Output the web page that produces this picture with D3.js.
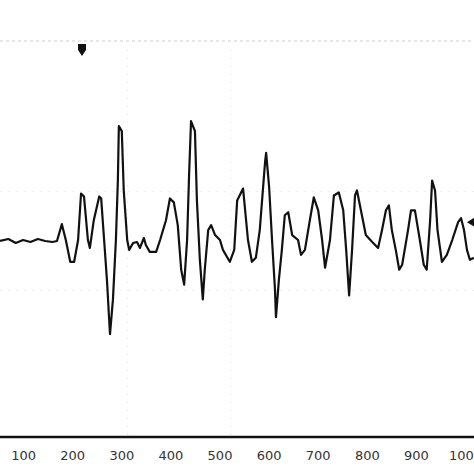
<!DOCTYPE html><html><head><meta charset="utf-8"><script src="https://cdn.jsdelivr.net/npm/d3@7"></script>
<style>body{margin:0;background:#fff}</style></head><body><svg id="c" width="474" height="474"></svg><script>
const timeVals=[53,70,85,100,115,130,145,160,169,179,187,196,204,212,218,224,232,236,244,255,259,265,271,275,277,283,289,293,295,301,305,312,316,324,332,338,346,350,358,371,379,391,399,407,415,422,428,434,438,442,450,454,460,466,470,477,483,491,501,507,521,530,536,548,558,566,574,582,593,595,601,607,613,615,621,627,633,640,648,660,666,674,684,692,701,709,715,725,733,743,752,758,764,770,776,780,788,798,811,823,831,839,845,851,859,866,872,884,890,898,908,916,922,929,933,939,944,953,963,974,986,992,998,1004,1010,1018];
const amplitude=[0.0,0.02,-0.02,0.01,-0.01,0.02,0.0,-0.01,0.0,0.17,0.01,-0.21,-0.21,0.01,0.48,0.45,0.01,-0.07,0.21,0.45,0.43,0.01,-0.41,-0.77,-0.94,-0.59,0.01,0.61,1.16,1.11,0.51,0.01,-0.09,-0.02,-0.01,-0.07,0.03,-0.04,-0.11,-0.11,0.01,0.21,0.43,0.39,0.16,-0.29,-0.44,0.01,0.66,1.21,1.11,0.41,-0.19,-0.59,-0.29,0.11,0.16,0.06,0.01,-0.09,-0.21,-0.09,0.41,0.53,0.01,-0.21,-0.17,0.11,0.81,0.89,0.55,0.01,-0.49,-0.77,-0.39,-0.09,0.26,0.29,0.06,0.01,-0.14,-0.09,0.21,0.44,0.31,0.01,-0.27,0.01,0.46,0.49,0.31,-0.09,-0.55,-0.09,0.46,0.51,0.31,0.06,-0.01,-0.07,0.11,0.31,0.36,0.11,-0.09,-0.29,-0.24,0.11,0.31,0.31,0.01,-0.24,-0.29,0.21,0.61,0.51,0.11,-0.21,-0.14,0.01,0.19,0.23,0.11,-0.09,-0.19,-0.17];
const tickVals=[100,200,300,400,500,600,700,800,900,1000];
const svg=d3.select("#c");
const x=d3.scaleLinear().domain([0,1000]).range([-26,465]);
const y=d3.scaleLinear().domain([-2,2]).range([439,43]);
svg.append("line").attr("x1",0).attr("x2",474).attr("y1",41).attr("y2",41).attr("stroke","#ccc").attr("stroke-dasharray","3,3");
[0.5,-0.5].forEach(v=>svg.append("line").attr("x1",0).attr("x2",474).attr("y1",y(v)).attr("y2",y(v)).attr("stroke","#eee").attr("stroke-dasharray","2,6"));
[313,522].forEach(v=>svg.append("line").attr("x1",x(v)).attr("x2",x(v)).attr("y1",41).attr("y2",437).attr("stroke","#eee").attr("stroke-dasharray","2,6"));
const pts=timeVals.map((t,i)=>[t,amplitude[i]]);
svg.append("path").datum(pts).attr("d",d3.line().x(d=>x(d[0])).y(d=>y(d[1]))).attr("fill","none").attr("stroke","#111").attr("stroke-width",2.2).attr("stroke-linejoin","round");
const ax=svg.append("g").attr("transform","translate(0,437)").call(d3.axisBottom(x).tickValues(tickVals).tickSize(0).tickPadding(14).tickFormat(d3.format("d")));
ax.select(".domain").remove();
svg.append("line").attr("x1",0).attr("x2",474).attr("y1",437).attr("y2",437).attr("stroke","#111").attr("stroke-width",2.5);
ax.selectAll("text").attr("font-family","DejaVu Sans").attr("font-size",13).attr("fill","#333");
svg.append("path").attr("d","M78,44 L86,44 L86,50 L82,56 L78,50 Z").attr("fill","#111");
svg.append("path").attr("d",`M${x(1004)},${y(0.19)} l8,-5 l0,10 Z`).attr("fill","#111");
</script></body></html>
